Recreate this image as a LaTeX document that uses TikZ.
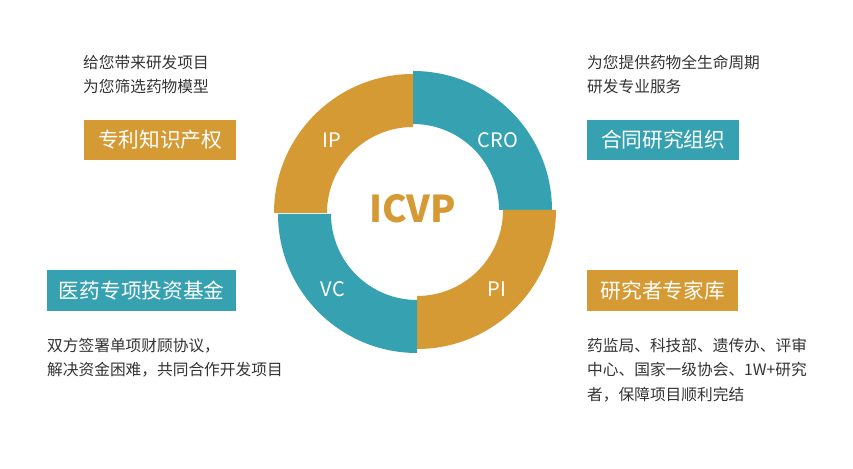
\documentclass[tikz,border=0pt]{standalone}
\usepackage{fontspec}
\setmainfont{Noto Sans CJK SC}
\definecolor{gold}{HTML}{D69A35}
\definecolor{teal}{HTML}{35A1B1}
\definecolor{txt}{HTML}{333333}
\tikzset{
	tag/.style={minimum height=40.5pt, inner sep=0pt, text=white, font=\fontsize{20.7}{24}\selectfont},
	info/.style={anchor=north west, inner sep=0pt, align=left, text=txt, text width=#1, font=\fontsize{15.7}{24.4}\selectfont},
	seg/.style={text=white, font=\fontsize{20}{24}\selectfont}
}
\begin{document}
\begin{tikzpicture}[x=1pt, y=1pt, line join=round]
	\useasboundingbox (0,0) rectangle (853,468);
	% ring, four quarters with centres a little apart
	\foreach \cx/\cy/\a/\c in {413/258/0/teal,417/258/-90/gold,417/254/-180/teal,413/255/-270/gold}
	\fill[\c] (\cx,\cy) ++(\a:139) arc[start angle=\a, delta angle=90, radius=139]
	-- ++(\a+90:-53) arc[start angle=\a+90, delta angle=-90, radius=86] --cycle;
	\node[seg] (ip) at (332,328) {IP};
	\node[seg] (cro) at (498,328) {CRO};
	\node[seg] (pi) at (497,179) {PI};
	\node[seg] (vc) at (333,179) {VC};
	\node[text=gold, font=\fontsize{37}{40}\bfseries\selectfont] (icvp) at (412.5,259) {ICVP};
	\node[tag, fill=gold, minimum width=152pt, anchor=west] (ipbox) at (84,328) {专利知识产权};
	\node[tag, fill=teal, minimum width=152pt, anchor=west] (crobox) at (587,328) {合同研究组织};
	\node[tag, fill=teal, minimum width=189pt, anchor=west] (vcbox) at (47,177.5) {医药专项投资基金};
	\node[tag, fill=gold, minimum width=151pt, anchor=west] (pibox) at (587,177.5) {研究者专家库};
	\node[info=140pt] (iptext) at (83,413) {给您带来研发项目\\为您筛选药物模型};
	\node[info=190pt] (crotext) at (587,413) {为您提供药物全生命周期\\研发专业服务};
	\node[info=250pt] (vctext) at (47,130) {双方签署单项财顾协议，\\解决资金困难，共同合作开发项目};
	\node[info=240pt] (pitext) at (587,130) {药监局、科技部、遗传办、评审\\中心、国家一级协会、1W+研究\\者，保障项目顺利完结};
\end{tikzpicture}
\end{document}
